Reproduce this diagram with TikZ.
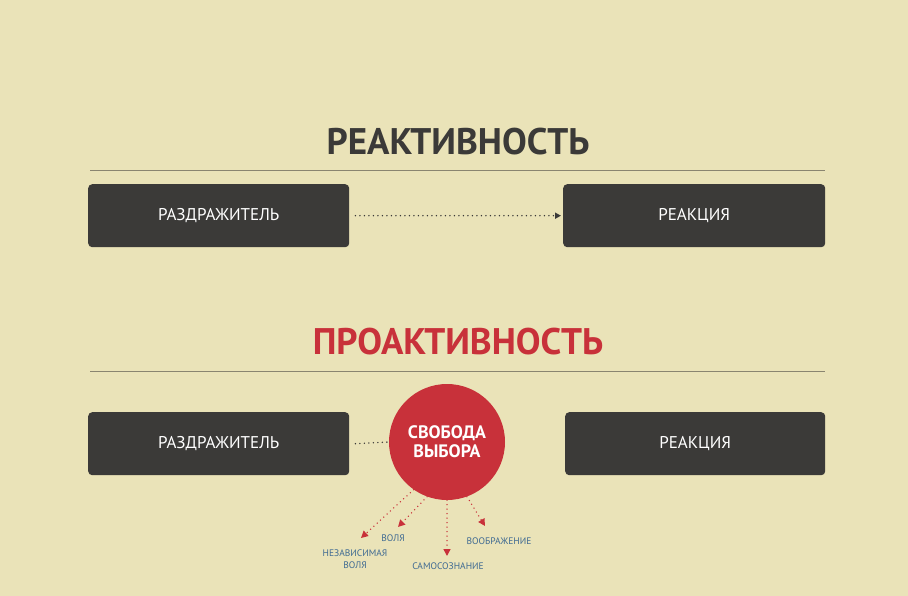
\documentclass[tikz,border=0pt]{standalone}
\usepackage{fontspec}
\setmainfont{PT Sans}
\usetikzlibrary{arrows.meta}
\definecolor{bg}{HTML}{EAE3B8}
\definecolor{boxc}{HTML}{3B3A38}
\definecolor{redc}{HTML}{C8313A}
\definecolor{bluec}{HTML}{3F6A92}
\definecolor{linec}{HTML}{8A8570}
\begin{document}
\begin{tikzpicture}[x=1pt,y=-1pt,
  blackbox/.style={fill=boxc,rounded corners=4pt,draw=none},
  boxtext/.style={text=white,font=\fontsize{17}{19}\selectfont},
  title/.style={font=\bfseries\fontsize{37}{40}\selectfont},
  dots/.style={line width=1.6pt,line cap=round,dash pattern=on 0pt off 4.5pt},
  lbl/.style={text=bluec,font=\fontsize{9.5}{10}\selectfont,align=center,inner sep=0pt}]
\fill[bg] (0,0) rectangle (908,596);
\useasboundingbox (0,0) rectangle (908,596);
\node[title,text=boxc] (t1) at (458,142) {РЕАКТИВНОСТЬ};
\draw[linec,line width=0.8pt] (90,170) coordinate (l1a) -- (825,170) coordinate (l1b);
\node[blackbox,minimum width=261,minimum height=63,anchor=north west] (a1) at (88,184) {};
\node[boxtext] at (a1) {РАЗДРАЖИТЕЛЬ};
\node[blackbox,minimum width=262,minimum height=63,anchor=north west] (b1) at (563,184) {};
\node[boxtext] at (b1) {РЕАКЦИЯ};
\draw[dots,boxc,-{Triangle[length=6pt,width=6pt]}] ([xshift=6pt]a1.east) -- ([xshift=-2pt]b1.west);

\node[title,text=redc] (t2) at (458,342) {ПРОАКТИВНОСТЬ};
\draw[linec,line width=0.8pt] (90,371) coordinate (l2a) -- (825,371) coordinate (l2b);
\node[blackbox,minimum width=261,minimum height=63,anchor=north west] (a2) at (88,412) {};
\node[boxtext] at (a2) {РАЗДРАЖИТЕЛЬ};
\node[blackbox,minimum width=260,minimum height=63,anchor=north west] (b2) at (565,412) {};
\node[boxtext] at (b2) {РЕАКЦИЯ};
\node[circle,fill=redc,minimum size=116,inner sep=0] (c) at (447,442) {};
\node[text=white,font=\bfseries\fontsize{18}{19}\selectfont,align=center] at (c) {СВОБОДА\\ВЫБОРА};
\draw[dots,boxc] ([xshift=6pt]a2.east) -- (c.west);

\tikzset{arr/.style={dots,redc,line width=1.5pt,-{Triangle[length=7pt,width=7pt]}}}
\coordinate (e1) at (361,538);
\coordinate (e2) at (398,527);
\coordinate (e3) at (447,556);
\coordinate (e4) at (485,526);
\draw[arr] (c.-125) -- (e1);
\draw[arr] (c.-110) -- (e2);
\draw[arr] (c.-90) -- (e3);
\draw[arr] (c.-70) -- (e4);
\node[lbl] (n1) at (355,559) {НЕЗАВИСИМАЯ\\[2pt]ВОЛЯ};
\node[lbl] (n2) at (393,538) {ВОЛЯ};
\node[lbl] (n3) at (448,566) {САМОСОЗНАНИЕ};
\node[lbl] (n4) at (499,541) {ВООБРАЖЕНИЕ};
\end{tikzpicture}
\end{document}
